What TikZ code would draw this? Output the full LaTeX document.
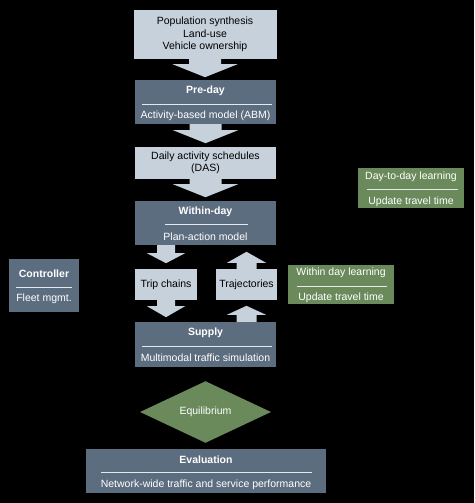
\documentclass[tikz,border=0pt]{standalone}
\usepackage{fontspec}
\setmainfont{Liberation Sans}
\usetikzlibrary{calc,shapes.geometric}
\definecolor{lightbox}{HTML}{C6D1DC}
\definecolor{darkbox}{HTML}{5D6D80}
\definecolor{greenbox}{HTML}{6A8A5B}
\definecolor{sepline}{HTML}{E4E9EE}
\newcommand\blockarrow[5]{%
  \fill[lightbox] ($(#1)+(-#4,0)$) -- ++(0,#2) -- ++({#4-#5},0) -- ++(#5,#3)
    -- ++(#5,-#3) -- ++({#4-#5},0) -- ++(0,-#2) -- cycle;}
\begin{document}
\begin{tikzpicture}[x=1pt,y=-1pt,
  every node/.style={font=\fontsize{10.5}{12.5}\selectfont},
  lbox/.style={fill=lightbox, draw=none, inner sep=0pt, align=center},
  dbox/.style={fill=darkbox, draw=none, inner sep=0pt},
  gbox/.style={fill=greenbox, draw=none, inner sep=0pt},
  ttl/.style={text=white, font=\fontsize{10.5}{12.5}\selectfont\bfseries, inner sep=0pt},
  gttl/.style={text=white, inner sep=0pt},
  sub/.style={text=white, inner sep=0pt},
  sep/.style={draw=sepline, line width=1pt}]
\fill[black] (0,0) rectangle (474,503);
\useasboundingbox (0,0) rectangle (474,503);

% Population
\node[lbox, minimum width=143pt, minimum height=49pt] (pop) at (205,34.5)
  {Population synthesis\\Land-use\\Vehicle ownership};

% Pre-day
\node[dbox, minimum width=141pt, minimum height=44pt] (pre) at (205.5,102) {};
\node[ttl] (preT) at (205.5,91) {Pre-day};
\draw[sep] (142,104) -- (272,104);
\node[sub] (preS) at (205.5,116) {Activity-based model (ABM)};

% DAS
\node[lbox, minimum width=141pt, minimum height=32pt] (das) at (205.5,163)
  {Daily activity schedules\\(DAS)};

% Within-day
\node[dbox, minimum width=141pt, minimum height=44pt] (wd) at (205.5,223) {};
\node[ttl] (wdT) at (205.5,212) {Within-day};
\draw[sep] (165,224.5) -- (248,224.5);
\node[sub] (wdS) at (205.5,237) {Plan-action model};

% Trip chains / Trajectories
\node[lbox, minimum width=62pt, minimum height=31pt] (trip) at (166,284.5) {Trip chains};
\node[lbox, minimum width=61pt, minimum height=31pt] (traj) at (246.5,284.5) {Trajectories};

% Supply
\node[dbox, minimum width=141pt, minimum height=45pt] (sup) at (205.5,344.5) {};
\node[ttl] (supT) at (205.5,333) {Supply};
\draw[sep] (142,346) -- (272,346);
\node[sub] (supS) at (205.5,357.5) {Multimodal traffic simulation};

% Controller
\node[dbox, minimum width=70pt, minimum height=53pt] (ctl) at (44,285.5) {};
\node[ttl] (ctlT) at (44,274) {Controller};
\draw[sep] (16,287) -- (72,287);
\node[sub] (ctlS) at (44,299) {Fleet mgmt.};

% Within day learning
\node[gbox, minimum width=106pt, minimum height=39pt] (wdl) at (341,284.5) {};
\node[gttl] (wdlT) at (341,273) {Within day learning};
\draw[sep] (297,286) -- (387,286);
\node[sub] (wdlS) at (341,298) {Update travel time};

% Day-to-day learning
\node[gbox, minimum width=106pt, minimum height=40pt] (ddl) at (411,188) {};
\node[gttl] (ddlT) at (411,177) {Day-to-day learning};
\draw[sep] (367,189.5) -- (458,189.5);
\node[sub] (ddlS) at (411,202) {Update travel time};

% Equilibrium
\node[diamond, fill=greenbox, inner sep=0pt, minimum width=131pt, minimum height=38pt,
  text=white] (eq) at (205.5,412) {Equilibrium};

% Evaluation
\node[dbox, minimum width=240pt, minimum height=44pt] (ev) at (206,471) {};
\node[ttl] (evT) at (206,460) {Evaluation};
\draw[sep] (101,472.5) -- (312,472.5);
\node[sub] (evS) at (206,484.5) {Network-wide traffic and service performance};

% Block arrows
\blockarrow{pop.south}{5}{13}{16}{32.5}
\blockarrow{pre.south}{6}{13}{16}{32.5}
\blockarrow{das.south}{5}{13}{16}{32.5}
\blockarrow{wd.south -| trip.north}{8}{10}{9}{19}
\blockarrow{trip.south}{6}{11}{9}{19}
\blockarrow{traj.north}{-6}{-11}{10}{19.5}
\blockarrow{sup.north -| traj.north}{-7}{-9}{10}{19.5}
\end{tikzpicture}
\end{document}
